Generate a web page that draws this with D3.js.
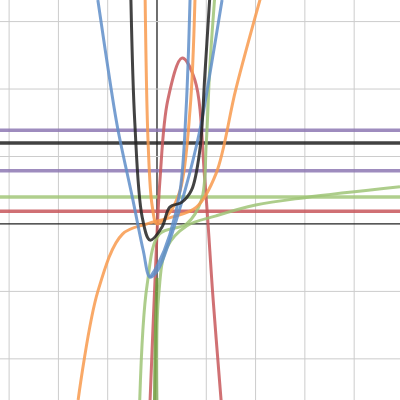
<!DOCTYPE html>
<html>
<head>
<meta charset="UTF-8">
<script src="https://cdn.jsdelivr.net/npm/d3@7"></script>
<style>body{margin:0;background:#fff}</style>
</head>
<body>
<svg id="c" width="400" height="400"></svg>
<script>
// levels and curves in grid units
var purpleLevels = [1.39, 0.79];
var blackLevel = [1.2];
var greenLevel = [0.4];
var redLevel = [0.19];

var blueWide = [[-1.2,3.32],[-0.93,2.0],[-0.79,1.39],[-0.49,0.36],[-0.28,-0.39],[-0.14,-0.79],[0.02,-0.68],[0.26,-0.24],[0.57,0.5],[0.87,1.39],[1.12,2.43],[1.32,3.32]];
var blueNarrow = [[-0.14,-0.79],[0.02,-0.6],[0.26,-0.16],[0.47,0.5],[0.59,1.69],[0.67,3.32]];
var blackCurve = [[-0.53,3.35],[-0.45,1.5],[-0.3,0.1],[-0.14,-0.24],[0.1,-0.05],[0.26,0.25],[0.5,0.32],[0.7,0.5],[0.87,1.1],[0.97,2.2],[1.07,3.35]];
var orangeNarrow = [[-0.24,3.32],[-0.18,1.2],[-0.1,0.28],[0.0,0.0],[0.22,0.13],[0.47,0.5],[0.67,1.69],[0.77,3.32]];
var orangeWide = [[-1.6,-2.61],[-1.2,-1.0],[-0.7,-0.15],[-0.2,0.0],[0.3,0.1],[0.8,0.25],[1.2,0.75],[1.6,2.0],[2.1,3.35]];
var redCurve = [[-0.14,-2.61],[-0.04,-0.83],[0.06,0.65],[0.22,1.84],[0.51,2.46],[0.77,2.13],[0.97,0.65],[1.14,-1.13],[1.3,-2.61]];
var greenRight = [[0.0,-2.61],[0.03,-1.1],[0.2,-0.35],[0.6,-0.03],[1.2,0.12],[2.0,0.28],[3.0,0.39],[4.93,0.55]];
var greenLeft = [[-0.35,-2.61],[-0.2,-0.9],[0.05,-0.15],[0.6,0.0],[0.9,0.35],[1.0,1.2],[1.07,2.3],[1.17,3.35]];
var greenDark = [[-0.05,-2.61],[-0.03,-1.5],[0.0,-0.8]];

var W = 400, H = 400;
var x = d3.scaleLinear().domain([-3.185, 4.93]).range([0, W]);
var y = d3.scaleLinear().domain([-2.61, 3.32]).range([H, 0]);
var svg = d3.select("#c");

var xt = d3.range(-3, 5), yt = d3.range(-2, 4);
svg.selectAll(".gx").data(xt).enter().append("line")
  .attr("x1", d => x(d)).attr("x2", d => x(d)).attr("y1", 0).attr("y2", H)
  .attr("stroke", d => d === 0 ? "#222" : "#ccc").attr("stroke-width", d => d === 0 ? 1.3 : 1);
svg.selectAll(".gy").data(yt).enter().append("line")
  .attr("y1", d => y(d)).attr("y2", d => y(d)).attr("x1", 0).attr("x2", W)
  .attr("stroke", d => d === 0 ? "#222" : "#ccc").attr("stroke-width", d => d === 0 ? 1.3 : 1);

function hline(vals, col) {
  svg.selectAll(null).data(vals).enter().append("line")
    .attr("x1", 0).attr("x2", W).attr("y1", d => y(d)).attr("y2", d => y(d))
    .attr("stroke", col).attr("stroke-width", 3.5).attr("opacity", 0.85);
}
var line = d3.line().x(d => x(d[0])).y(d => y(d[1])).curve(d3.curveCatmullRom);
function curve(pts, col, w) {
  svg.append("path").attr("d", line(pts)).attr("fill", "none")
    .attr("stroke", col).attr("stroke-width", w || 3).attr("opacity", 0.85);
}
hline(purpleLevels, "#8e79b3");
hline(blackLevel, "#222");
hline(greenLevel, "#a3c77a");
hline(redLevel, "#c8585c");
curve(redCurve, "#c8585c");
curve(greenRight, "#9fc477");
curve(greenLeft, "#9fc477");
curve(greenDark, "#6f9a3a");
curve(orangeWide, "#f89a4e");
curve(orangeNarrow, "#f89a4e");
curve(blueWide, "#5f8ec9");
curve(blueNarrow, "#5f8ec9");
curve(blackCurve, "#222");
</script>
</body>
</html>
